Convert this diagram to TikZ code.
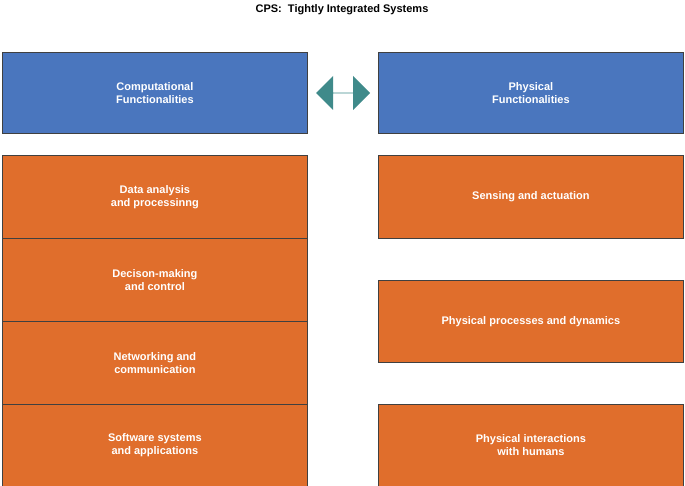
\documentclass[tikz,border=0pt]{standalone}
\usepackage{fontspec}
\setmainfont{Liberation Sans}
\usetikzlibrary{shapes.arrows}
\definecolor{bl}{HTML}{4A76BE}
\definecolor{orr}{HTML}{E06E2C}
\definecolor{tl}{HTML}{3F8A8A}
\begin{document}
\begin{tikzpicture}[x=1pt,y=-1pt,
 box/.style={draw=black!75,line width=0.8pt,text=white,font=\bfseries\fontsize{11}{13}\selectfont,align=center,anchor=north west,inner sep=0pt},
 bbox/.style={box,fill=bl},
 obox/.style={box,fill=orr}]
\useasboundingbox (0,0) rectangle (685,486);
\node[font=\bfseries\fontsize{11}{13}\selectfont] (t) at (342,10) {CPS:\ \ Tightly Integrated Systems};
\node[bbox,minimum width=305,minimum height=81] (cf) at (2,52) {Computational\\Functionalities};
\node[bbox,minimum width=305,minimum height=81] (pf) at (378,52) {Physical\\Functionalities};
\node[obox,minimum width=305,minimum height=83] (a) at (2,155) {Data analysis\\and processinng};
\node[obox,minimum width=305,minimum height=83] (b) at (2,238) {Decison-making\\and control};
\node[obox,minimum width=305,minimum height=83] (c) at (2,321) {Networking and\\communication};
\node[obox,minimum width=305,minimum height=82] (d) at (2,404) {Software systems\\and applications};
\node[obox,minimum width=305,minimum height=83] (e) at (378,155) {Sensing and actuation};
\node[obox,minimum width=305,minimum height=82] (f) at (378,280) {Physical processes and dynamics};
\node[obox,minimum width=305,minimum height=82] (g) at (378,404) {Physical interactions\\with humans};
\node[double arrow,fill=tl,draw=none,minimum width=34,minimum height=54,double arrow head extend=10,inner sep=0pt] (ar) at (343,93) {};
\end{tikzpicture}
\end{document}
